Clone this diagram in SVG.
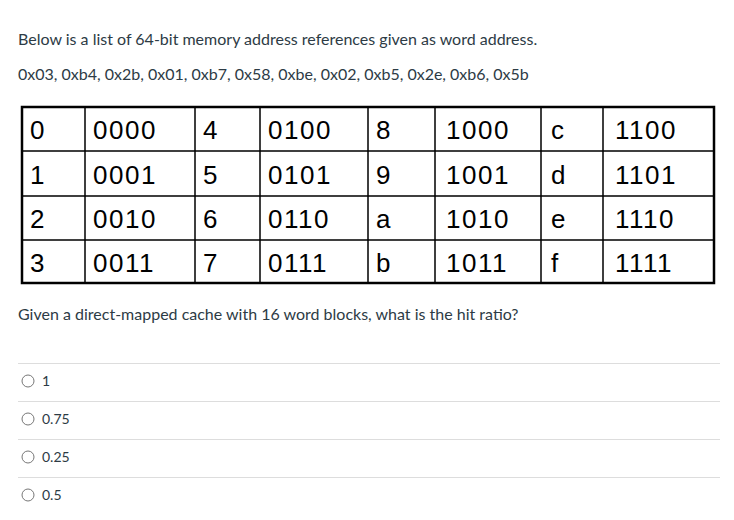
<svg xmlns="http://www.w3.org/2000/svg" width="734" height="520" viewBox="0 0 734 520">
<style>
.p{font-family:Lato,"Liberation Sans",sans-serif;font-size:16px;fill:#2d3b45}
.a{font-size:14px}
.t{font-family:"Liberation Sans",Arial,sans-serif;font-size:26px;letter-spacing:1.5px;fill:#000}
.g{stroke:#000;stroke-width:1.5;fill:none}
.sep{stroke:#ddd;stroke-width:1}
.r{fill:#fff;stroke:#777;stroke-width:1}
</style>
<rect width="734" height="520" fill="#fff"/>
<text class="p" x="18" y="45">Below is a list of 64-bit memory address references given as word address.</text>
<text class="p" x="18" y="80">0x03, 0xb4, 0x2b, 0x01, 0xb7, 0x58, 0xbe, 0x02, 0xb5, 0x2e, 0xb6, 0x5b</text>
<g id="table">
<rect x="22" y="107" width="692" height="176" fill="#fff" stroke="#000" stroke-width="2.5"/>
<path class="g" d="M85 107V283M195 107V283M260 107V283M368 107V283M435 107V283M541 107V283M603 107V283M22 151H714M22 196H714M22 240H714"/>
<g class="t">
<text x="30" y="139">0</text><text x="93" y="139">0000</text><text x="203" y="139">4</text><text x="268" y="139">0100</text><text x="376" y="139">8</text><text x="446" y="139">1000</text><text x="551" y="139">c</text><text x="615" y="139">1100</text>
<text x="30" y="184">1</text><text x="93" y="184">0001</text><text x="203" y="184">5</text><text x="268" y="184">0101</text><text x="376" y="184">9</text><text x="446" y="184">1001</text><text x="551" y="184">d</text><text x="615" y="184">1101</text>
<text x="30" y="228">2</text><text x="93" y="228">0010</text><text x="203" y="228">6</text><text x="268" y="228">0110</text><text x="376" y="228">a</text><text x="446" y="228">1010</text><text x="551" y="228">e</text><text x="615" y="228">1110</text>
<text x="30" y="272">3</text><text x="93" y="272">0011</text><text x="203" y="272">7</text><text x="268" y="272">0111</text><text x="376" y="272">b</text><text x="446" y="272">1011</text><text x="551" y="272">f</text><text x="615" y="272">1111</text>
</g>
</g>
<text class="p" x="18" y="320">Given a direct-mapped cache with 16 word blocks, what is the hit ratio?</text>
<g id="answers">
<path class="sep" d="M18 363.5H720M18 401.5H720M18 439.5H720M18 477.5H720"/>
<circle class="r" cx="28" cy="381" r="6"/><text class="p a" x="42" y="386">1</text>
<circle class="r" cx="28" cy="419" r="6"/><text class="p a" x="42" y="424">0.75</text>
<circle class="r" cx="28" cy="457" r="6"/><text class="p a" x="42" y="462">0.25</text>
<circle class="r" cx="28" cy="495" r="6"/><text class="p a" x="42" y="500">0.5</text>
</g>
</svg>
